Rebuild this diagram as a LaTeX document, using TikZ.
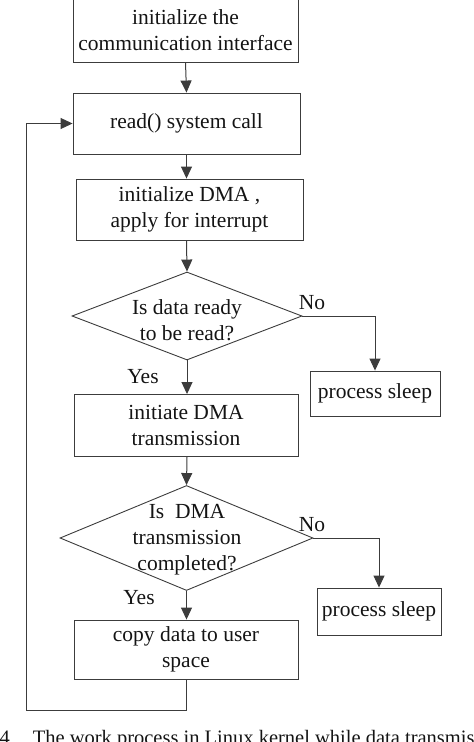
\documentclass[tikz,border=0pt]{standalone}
\usepackage{fontspec}
\setmainfont{Liberation Serif}
\usetikzlibrary{arrows.meta,shapes.geometric}
\definecolor{ln}{RGB}{60,60,60}
\definecolor{txt}{RGB}{20,20,20}

\begin{document}
\begin{tikzpicture}[
        x=1pt, y=-1pt,
        every node/.style={font=\fontsize{21.5}{26}\selectfont, text=txt, align=center},
        box/.style={rectangle, draw=ln, line width=0.9pt, inner sep=0pt},
        dec/.style={diamond, draw=ln, line width=0.9pt, inner sep=0pt},
        flow/.style={-{Triangle[length=12pt,width=11pt]}, line width=1pt, ln},
        ]
        \useasboundingbox (0,0) rectangle (474,742);
        \clip (0,0) rectangle (474,742);

        \node(init)[box, minimum width=225pt, minimum height=64pt] at (185.5,30) {initialize the\\communication interface};
        \node(readcall)[box, minimum width=227pt, minimum height=61pt] at (186.5,123.5) {read() system call};
        \node(dma)[box, minimum width=227pt, minimum height=61pt] at (189.5,209.5) {initialize DMA ,\\apply for interrupt};
        \node(ready)[dec, minimum width=230pt, minimum height=88pt] at (187,316) {};
        \node(readytxt) at (187,320) {Is data ready\\to be read?};
        \node(sleepA)[box, minimum width=130pt, minimum height=45pt] at (375,393.5) {process sleep};
        \node(initiate)[box, minimum width=224pt, minimum height=62pt] at (186,425.5) {initiate DMA\\transmission};
        \node(done)[dec, minimum width=253pt, minimum height=105pt] at (186.5,538) {};
        \node(donetxt) at (187,540) {Is\ \ DMA\\transmission\\completed?};
        \node(sleepB)[box, minimum width=124pt, minimum height=47pt] at (379,611.5) {process sleep};
        \node(copy)[box, minimum width=224pt, minimum height=59pt] at (186,649.5) {copy data to user\\space};

        \node(noA) at (312,303) {No};
        \node(yesA) at (143,377) {Yes};
        \node(noB) at (312,525) {No};
        \node(yesB) at (139,598) {Yes};

        \draw[flow] (init.south) -- (readcall.north);
        \draw[flow] (readcall.south) -- (dma.north -| readcall.south);
        \draw[flow] (dma.south -| readcall.south) -- (ready.north);
        \draw[flow] (ready.south) -- (initiate.north -| ready.south);
        \draw[flow] (ready.east) -| (sleepA.north);
        \draw[flow] (initiate.south -| ready.south) -- (done.north);
        \draw[flow] (done.east) -| (sleepB.north);
        \draw[flow] (done.south) -- (copy.north -| done.south);

        \coordinate(back) at (26,710);
        \draw[flow] (copy.south) |- (back) |- (readcall.west);

        \node(caption)[anchor=base west, font=\fontsize{20.5}{24}\selectfont] at (-4,744) {4\hspace{23pt}The work process in Linux kernel while data transmission};
\end{tikzpicture}
\end{document}
